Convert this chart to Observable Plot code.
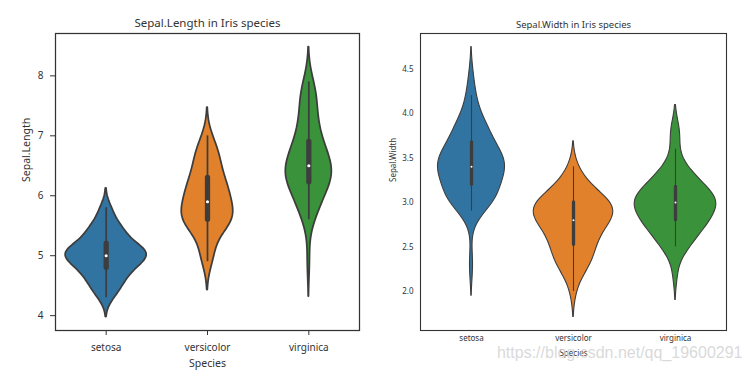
<!DOCTYPE html>
<html><head><meta charset="utf-8">
<script src="https://cdn.jsdelivr.net/npm/d3@7"></script>
<script src="https://cdn.jsdelivr.net/npm/@observablehq/plot@0.6"></script>
<style>
body{margin:0;background:#fff;}
#chart{position:relative;width:748px;height:370px;overflow:hidden;background:#fff;}
#chart svg{position:absolute;top:0;}
</style></head><body><div id="chart"></div>
<script>
// Iris data (Sepal.Length, Sepal.Width) per species
const species = ["setosa", "versicolor", "virginica"];
const sepalLengthSetosa = [5.1,4.9,4.7,4.6,5.0,5.4,4.6,5.0,4.4,4.9,5.4,4.8,4.8,4.3,5.8,5.7,5.4,5.1,5.7,5.1,5.4,5.1,4.6,5.1,4.8,5.0,5.0,5.2,5.2,4.7,4.8,5.4,5.2,5.5,4.9,5.0,5.5,4.9,4.4,5.1,5.0,4.5,4.4,5.0,5.1,4.8,5.1,4.6,5.3,5.0];
const sepalLengthVersicolor = [7.0,6.4,6.9,5.5,6.5,5.7,6.3,4.9,6.6,5.2,5.0,5.9,6.0,6.1,5.6,6.7,5.6,5.8,6.2,5.6,5.9,6.1,6.3,6.1,6.4,6.6,6.8,6.7,6.0,5.7,5.5,5.5,5.8,6.0,5.4,6.0,6.7,6.3,5.6,5.5,5.5,6.1,5.8,5.0,5.6,5.7,5.7,6.2,5.1,5.7];
const sepalLengthVirginica = [6.3,5.8,7.1,6.3,6.5,7.6,4.9,7.3,6.7,7.2,6.5,6.4,6.8,5.7,5.8,6.4,6.5,7.7,7.7,6.0,6.9,5.6,7.7,6.3,6.7,7.2,6.2,6.1,6.4,7.2,7.4,7.9,6.4,6.3,6.1,7.7,6.3,6.4,6.0,6.9,6.7,6.9,5.8,6.8,6.7,6.7,6.3,6.5,6.2,5.9];
const sepalWidthSetosa = [3.5,3.0,3.2,3.1,3.6,3.9,3.4,3.4,2.9,3.1,3.7,3.4,3.0,3.0,4.0,4.4,3.9,3.5,3.8,3.8,3.4,3.7,3.6,3.3,3.4,3.0,3.4,3.5,3.4,3.2,3.1,3.4,4.1,4.2,3.1,3.2,3.5,3.6,3.0,3.4,3.5,2.3,3.2,3.5,3.8,3.0,3.8,3.2,3.7,3.3];
const sepalWidthVersicolor = [3.2,3.2,3.1,2.3,2.8,2.8,3.3,2.4,2.9,2.7,2.0,3.0,2.2,2.9,2.9,3.1,3.0,2.7,2.2,2.5,3.2,2.8,2.5,2.8,2.9,3.0,2.8,3.0,2.9,2.6,2.4,2.4,2.7,2.7,3.0,3.4,3.1,2.3,3.0,2.5,2.6,3.0,2.6,2.3,2.7,3.0,2.9,2.9,2.5,2.8];
const sepalWidthVirginica = [3.3,2.7,3.0,2.9,3.0,3.0,2.5,2.9,2.5,3.6,3.2,2.7,3.0,2.5,2.8,3.2,3.0,3.8,2.6,2.2,3.2,2.8,2.8,2.7,3.3,3.2,2.8,3.0,2.8,3.0,2.8,3.8,2.8,2.8,2.6,3.0,3.4,3.1,3.0,3.1,3.1,3.1,2.7,3.2,3.3,3.0,2.5,3.0,3.4,3.0];
const lengthTicks = [4, 5, 6, 7, 8];
const widthTicks = [2.0, 2.5, 3.0, 3.5, 4.0, 4.5];
const colors = ["#3274a1", "#e1812c", "#3a923a"];
const gray = "#3d3d3d";

// Gaussian KDE (Scott bandwidth, cut = 2, 100 grid points), like seaborn's violinplot
function kde(values) {
  const n = values.length;
  const bw = Math.pow(n, -1 / 5) * d3.deviation(values);
  const lo = d3.min(values) - 2 * bw, hi = d3.max(values) + 2 * bw;
  const grid = d3.range(100).map(i => lo + (hi - lo) * i / 99);
  const dens = grid.map(x => d3.sum(values, v => Math.exp(-0.5 * ((x - v) / bw) ** 2)) / (n * bw * Math.sqrt(2 * Math.PI)));
  return {grid, dens, lo, hi};
}
function boxStats(values, i) {
  const s = values.slice().sort(d3.ascending);
  const q1 = d3.quantile(s, 0.25), med = d3.quantile(s, 0.5), q3 = d3.quantile(s, 0.75);
  const iqr = q3 - q1;
  return {i, q1, med, q3,
    wlo: d3.min(s.filter(v => v >= q1 - 1.5 * iqr)),
    whi: d3.max(s.filter(v => v <= q3 + 1.5 * iqr))};
}

function panel(groups, o) {
  const k = groups.map(kde);
  const maxD = d3.max(k, e => d3.max(e.dens));
  const rows = [];
  k.forEach((e, i) => e.grid.forEach((y, j) => {
    const w = e.dens[j] / maxD * 0.4;
    rows.push({sp: species[i], y, x1: i - w, x2: i + w});
  }));
  const stats = groups.map(boxStats);
  const lo = d3.min(k, e => e.lo), hi = d3.max(k, e => e.hi), pad = (hi - lo) * 0.05;
  const extra = o.extra || [];
  const svg = Plot.plot({
    width: 374, height: 370,
    marginLeft: o.ml, marginRight: o.mr, marginTop: 33, marginBottom: 40,
    style: {fontFamily: "'Noto Sans', sans-serif", fontSize: o.tickFont + "px", color: "#333", background: "white", overflow: "visible"},
    x: {domain: [-0.5, 2.5]},
    y: {domain: [lo - pad, hi + pad]},
    color: {domain: species, range: colors},
    marks: [
      Plot.areaX(rows, {y: "y", x1: "x1", x2: "x2", z: "sp", fill: "sp", stroke: gray, strokeWidth: o.lw, curve: "linear"}),
      Plot.ruleX(stats, {x: "i", y1: "wlo", y2: "whi", stroke: gray, strokeWidth: o.lw}),
      Plot.ruleX(stats, {x: "i", y1: "q1", y2: "q3", stroke: gray, strokeWidth: o.lw * 3, strokeLinecap: "round"}),
      Plot.dot(stats, {x: "i", y: "med", fill: "white", r: o.lw * 0.9}),
      Plot.frame({stroke: "#333", strokeWidth: o.fw}),
      Plot.axisX({ticks: [0, 1, 2], tickFormat: i => species[i], tickSize: o.ts, tickPadding: o.xpad, label: null, fontSize: o.tickFont}),
      Plot.axisY({ticks: o.yticks, tickFormat: o.yfmt, tickSize: o.ts, tickPadding: o.ypad, label: null, fontSize: o.tickFont}),
      Plot.text([o.title], {frameAnchor: "top", lineAnchor: "middle", dy: o.titleDy, fontSize: o.titleFont, fill: "#333"}),
      Plot.text([o.ylabel], {frameAnchor: "left", lineAnchor: "middle", dx: o.ylabDx, rotate: -90, fontSize: o.labFont, fill: "#333"}),
      Plot.text(["Species"], {frameAnchor: "bottom", lineAnchor: "middle", dy: o.xlabDy, fontSize: o.labFont, fill: "#333"}),
      ...extra
    ]
  });
  svg.style.left = o.left + "px";
  return svg;
}

const chart = document.getElementById("chart");
chart.append(panel([sepalLengthSetosa, sepalLengthVersicolor, sepalLengthVirginica], {
  left: 0, ml: 55, mr: 15, lw: 1.75, fw: 1.25, ts: 5, xpad: 8, ypad: 7,
  yticks: lengthTicks, yfmt: d => String(d), tickFont: 10, titleFont: 11.5, labFont: 10.5,
  title: "Sepal.Length in Iris species", titleDy: -10, ylabel: "Sepal.Length", ylabDx: -29, xlabDy: 33
}));
chart.append(panel([sepalWidthSetosa, sepalWidthVersicolor, sepalWidthVirginica], {
  left: 374, ml: 46, mr: 22, lw: 1.1, fw: 1.1, ts: 0, xpad: 5, ypad: 7,
  yticks: widthTicks, yfmt: d => d.toFixed(1), tickFont: 8, titleFont: 9.5, labFont: 8,
  title: "Sepal.Width in Iris species", titleDy: -9, ylabel: "Sepal.Width", ylabDx: -27, xlabDy: 23,
  extra: [Plot.text(["https://blog.csdn.net/qq_19600291"], {frameAnchor: "bottom-right", textAnchor: "end", lineAnchor: "middle", dx: 16, dy: 22, fontSize: 16, fontFamily: "'Liberation Sans', sans-serif", fill: "#d2d2d2", fillOpacity: 0.85})]
}));
</script></body></html>
